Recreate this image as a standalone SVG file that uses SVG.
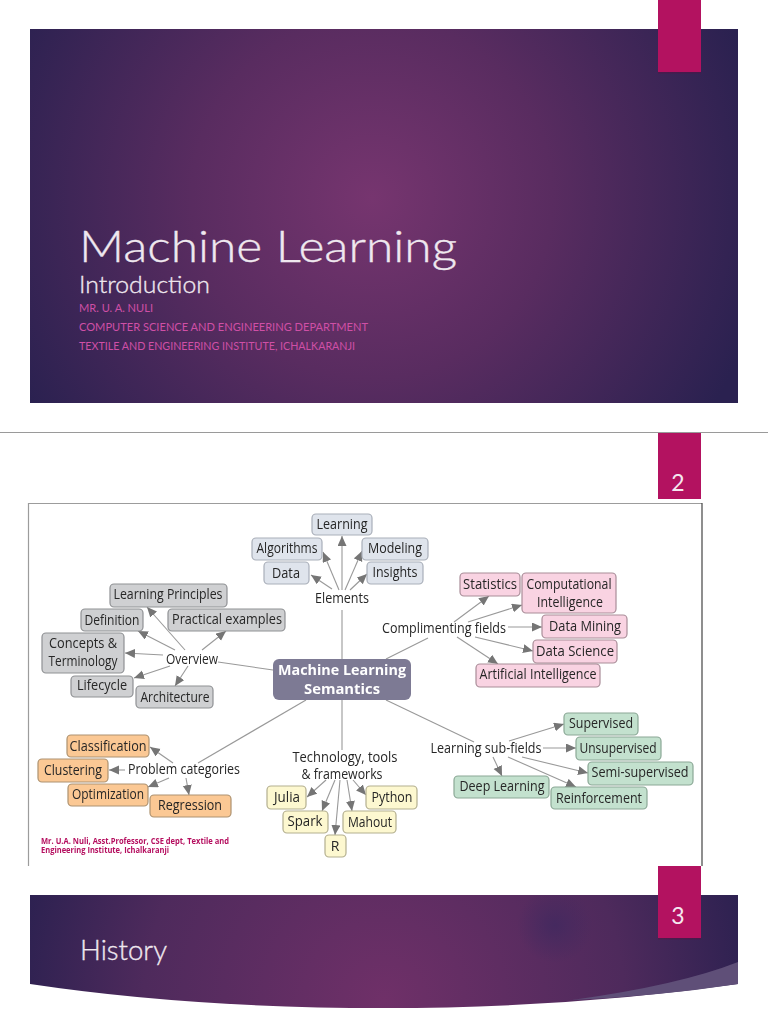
<svg xmlns="http://www.w3.org/2000/svg" width="768" height="1024" viewBox="0 0 768 1024">
<style>
.n{stroke-width:1.2}
.n rect{rx:4px;ry:4px}
.t{font-family:"Open Sans","Liberation Sans",sans-serif;font-size:14px;fill:#262626;text-anchor:middle}
.blue rect{fill:#dfe4ec;stroke:#a9afb9}
.gray rect{fill:#cfd0d2;stroke:#8f9194}
.pink rect{fill:#f9d3e2;stroke:#a98d98}
.green rect{fill:#c3e1ce;stroke:#8ba896}
.yellow rect{fill:#fdf8d0;stroke:#b3af8f}
.orange rect{fill:#fbc894;stroke:#ad9270}
.c line{stroke:#999;stroke-width:1.1}
.c line.a{marker-end:url(#ah)}
.title{font-family:"Lato","Open Sans",sans-serif;font-weight:300;fill:#efe8ef;stroke:#efe8ef;stroke-width:.35}
.sub{font-family:"Lato","Open Sans",sans-serif;font-size:11px;fill:#cf4fa6}
.tab{fill:#b31260}
.tabs{fill:#5a1040;opacity:.45}
.num{font-family:"Lato","Open Sans",sans-serif;font-weight:400;font-size:23px;fill:#f5e8f0;text-anchor:middle}
.soft{filter:url(#soft)}
</style>
<defs>
<radialGradient id="g1" gradientUnits="userSpaceOnUse" cx="372" cy="198" r="400">
<stop offset="0" stop-color="#76356f"/><stop offset=".45" stop-color="#592c60"/><stop offset="1" stop-color="#2a2150"/>
</radialGradient>
<radialGradient id="g3" gradientUnits="userSpaceOnUse" cx="384" cy="1000" r="400">
<stop offset="0" stop-color="#6f3068"/><stop offset=".6" stop-color="#4e2a5c"/><stop offset="1" stop-color="#251f4e"/>
</radialGradient>
<radialGradient id="spot"><stop offset="0" stop-color="#43295f" stop-opacity=".9"/><stop offset="1" stop-color="#43295f" stop-opacity="0"/></radialGradient>
<clipPath id="s3"><rect x="30" y="895" width="708" height="115"/></clipPath>
<marker id="ah" markerUnits="userSpaceOnUse" markerWidth="11" markerHeight="10" refX="10" refY="4.5" orient="auto">
<path d="M0 0L10 4.5L0 9Z" fill="#757575"/>
</marker>
<filter id="soft" x="-5%" y="-5%" width="110%" height="110%"><feGaussianBlur stdDeviation="0.4"/></filter>
</defs>
<rect width="768" height="1024" fill="#fff"/>

<g id="slide1">
<rect x="30" y="29" width="708" height="374" fill="url(#g1)"/>
<rect x="658" y="72" width="43" height="1.5" class="tabs"/>
<rect x="658" y="0" width="43" height="72" class="tab"/>
<text class="title" x="79" y="262" font-size="44" textLength="378" lengthAdjust="spacingAndGlyphs">Machine Learning</text>
<text class="title" x="79" y="293" font-size="24" textLength="131" lengthAdjust="spacingAndGlyphs">Introduction</text>
<text class="sub" x="79" y="312" textLength="74" lengthAdjust="spacingAndGlyphs">MR. U. A. NULI</text>
<text class="sub" x="79" y="331" textLength="289" lengthAdjust="spacingAndGlyphs">COMPUTER SCIENCE AND ENGINEERING DEPARTMENT</text>
<text class="sub" x="79" y="350" textLength="276" lengthAdjust="spacingAndGlyphs">TEXTILE AND ENGINEERING INSTITUTE, ICHALKARANJI</text>
</g>

<line x1="0" y1="432.5" x2="768" y2="432.5" stroke="#9a9a9a"/>

<g id="slide2">
<rect x="658" y="433" width="43" height="66" class="tab"/>
<text class="num" x="678" y="491">2</text>
<path d="M28.5 866V503.5H702" fill="none" stroke="#9c9c9c" stroke-width="1.2"/>
<path d="M702 503V866" fill="none" stroke="#444" stroke-width="1.2"/>
</g>

<g class="soft">
<g id="connectors" class="c">
<line x1="342" y1="659" x2="342" y2="610" stroke-width="1.5"/>
<line class="a" x1="342" y1="590" x2="342" y2="536"/>
<line class="a" x1="339" y1="590" x2="323" y2="552"/>
<line class="a" x1="332" y1="589" x2="311" y2="575"/>
<line class="a" x1="345" y1="590" x2="362" y2="551"/>
<line class="a" x1="350" y1="590" x2="367" y2="574"/>
<line x1="273" y1="670" x2="218" y2="662"/>
<line class="a" x1="185" y1="650" x2="147" y2="607"/>
<line class="a" x1="175" y1="650" x2="138" y2="631"/>
<line class="a" x1="202" y1="650" x2="226" y2="631"/>
<line class="a" x1="163" y1="655" x2="125" y2="653"/>
<line class="a" x1="170" y1="666" x2="134" y2="678"/>
<line class="a" x1="188" y1="666" x2="175" y2="686"/>
<line x1="386" y1="659" x2="428" y2="638"/>
<line class="a" x1="454" y1="622" x2="489" y2="596"/>
<line class="a" x1="468" y1="622" x2="522" y2="605"/>
<line class="a" x1="508" y1="627" x2="542" y2="627"/>
<line class="a" x1="475" y1="637" x2="533" y2="651"/>
<line class="a" x1="457" y1="637" x2="498" y2="664"/>
<line x1="386" y1="700" x2="474" y2="742"/>
<line class="a" x1="509" y1="741" x2="564" y2="724"/>
<line class="a" x1="543" y1="748" x2="576" y2="748"/>
<line class="a" x1="522" y1="757" x2="588" y2="773"/>
<line class="a" x1="508" y1="757" x2="576" y2="787"/>
<line class="a" x1="493" y1="757" x2="502" y2="776"/>
<line x1="306" y1="700" x2="198" y2="763"/>
<line class="a" x1="173" y1="763" x2="150" y2="747"/>
<line class="a" x1="125" y1="770" x2="109" y2="770"/>
<line class="a" x1="169" y1="778" x2="148" y2="787"/>
<line class="a" x1="186" y1="778" x2="189" y2="795"/>
<line x1="342" y1="700" x2="342" y2="750" stroke-width="1.5"/>
<line class="a" x1="326" y1="780" x2="307" y2="797"/>
<line class="a" x1="335" y1="780" x2="322" y2="811"/>
<line class="a" x1="340" y1="780" x2="335" y2="835"/>
<line class="a" x1="347" y1="780" x2="352" y2="811"/>
<line class="a" x1="353" y1="780" x2="366" y2="795"/>
</g>

<g id="n-center"><rect x="273" y="659" width="138" height="41" rx="6" fill="#7d7a94"/>
<text x="342" y="675" font-family="'Open Sans','Liberation Sans',sans-serif" font-size="14" font-weight="700" fill="#fff" text-anchor="middle" textLength="128" lengthAdjust="spacingAndGlyphs">Machine Learning</text>
<text x="342" y="694" font-family="'Open Sans','Liberation Sans',sans-serif" font-size="14" font-weight="700" fill="#fff" text-anchor="middle" textLength="76" lengthAdjust="spacingAndGlyphs">Semantics</text></g>

<g id="l-elements"><text class="t" x="342" y="603" textLength="54" lengthAdjust="spacingAndGlyphs">Elements</text></g>
<g id="n-learning" class="n blue"><rect x="312" y="514" width="60" height="21"/><text class="t" x="342" y="529" textLength="51" lengthAdjust="spacingAndGlyphs">Learning</text></g>
<g id="n-algorithms" class="n blue"><rect x="252" y="538" width="70" height="22"/><text class="t" x="287" y="553" textLength="61" lengthAdjust="spacingAndGlyphs">Algorithms</text></g>
<g id="n-data" class="n blue"><rect x="264" y="562" width="45" height="22"/><text class="t" x="286" y="578" textLength="28" lengthAdjust="spacingAndGlyphs">Data</text></g>
<g id="n-modeling" class="n blue"><rect x="362" y="538" width="66" height="22"/><text class="t" x="395" y="553" textLength="54" lengthAdjust="spacingAndGlyphs">Modeling</text></g>
<g id="n-insights" class="n blue"><rect x="367" y="562" width="56" height="22"/><text class="t" x="395" y="577" textLength="45" lengthAdjust="spacingAndGlyphs">Insights</text></g>

<g id="l-overview"><text class="t" x="192" y="664" textLength="52" lengthAdjust="spacingAndGlyphs">Overview</text></g>
<g id="n-principles" class="n gray"><rect x="110" y="584" width="117" height="23"/><text class="t" x="168" y="599" textLength="109" lengthAdjust="spacingAndGlyphs">Learning Principles</text></g>
<g id="n-definition" class="n gray"><rect x="81" y="609" width="62" height="22"/><text class="t" x="112" y="625" textLength="55" lengthAdjust="spacingAndGlyphs">Definition</text></g>
<g id="n-practical" class="n gray"><rect x="168" y="609" width="117" height="22"/><text class="t" x="227" y="624" textLength="110" lengthAdjust="spacingAndGlyphs">Practical examples</text></g>
<g id="n-concepts" class="n gray"><rect x="42" y="633" width="82" height="40"/><text class="t" x="83" y="648" textLength="68" lengthAdjust="spacingAndGlyphs">Concepts &amp;</text><text class="t" x="83" y="666" textLength="69" lengthAdjust="spacingAndGlyphs">Terminology</text></g>
<g id="n-lifecycle" class="n gray"><rect x="71" y="676" width="62" height="21"/><text class="t" x="102" y="690" textLength="50" lengthAdjust="spacingAndGlyphs">Lifecycle</text></g>
<g id="n-architecture" class="n gray"><rect x="136" y="686" width="77" height="22"/><text class="t" x="175" y="702" textLength="69" lengthAdjust="spacingAndGlyphs">Architecture</text></g>

<g id="l-complimenting"><text class="t" x="444" y="633" textLength="124" lengthAdjust="spacingAndGlyphs">Complimenting fields</text></g>
<g id="n-statistics" class="n pink"><rect x="460" y="573" width="60" height="23"/><text class="t" x="490" y="589" textLength="54" lengthAdjust="spacingAndGlyphs">Statistics</text></g>
<g id="n-computational" class="n pink"><rect x="522" y="573" width="94" height="40"/><text class="t" x="569" y="589" textLength="85" lengthAdjust="spacingAndGlyphs">Computational</text><text class="t" x="570" y="607" textLength="66" lengthAdjust="spacingAndGlyphs">Intelligence</text></g>
<g id="n-datamining" class="n pink"><rect x="542" y="615" width="85" height="23"/><text class="t" x="585" y="631" textLength="72" lengthAdjust="spacingAndGlyphs">Data Mining</text></g>
<g id="n-datascience" class="n pink"><rect x="533" y="640" width="84" height="23"/><text class="t" x="575" y="656" textLength="78" lengthAdjust="spacingAndGlyphs">Data Science</text></g>
<g id="n-ai" class="n pink"><rect x="476" y="664" width="124" height="23"/><text class="t" x="538" y="679" textLength="117" lengthAdjust="spacingAndGlyphs">Artificial Intelligence</text></g>

<g id="l-subfields"><text class="t" x="486" y="753" textLength="111" lengthAdjust="spacingAndGlyphs">Learning sub-fields</text></g>
<g id="n-supervised" class="n green"><rect x="564" y="713" width="74" height="22"/><text class="t" x="601" y="728" textLength="64" lengthAdjust="spacingAndGlyphs">Supervised</text></g>
<g id="n-unsupervised" class="n green"><rect x="576" y="737" width="85" height="23"/><text class="t" x="618" y="753" textLength="77" lengthAdjust="spacingAndGlyphs">Unsupervised</text></g>
<g id="n-semi" class="n green"><rect x="588" y="762" width="105" height="23"/><text class="t" x="640" y="777" textLength="97" lengthAdjust="spacingAndGlyphs">Semi-supervised</text></g>
<g id="n-reinforcement" class="n green"><rect x="551" y="787" width="96" height="22"/><text class="t" x="599" y="803" textLength="86" lengthAdjust="spacingAndGlyphs">Reinforcement</text></g>
<g id="n-deep" class="n green"><rect x="454" y="776" width="95" height="22"/><text class="t" x="502" y="791" textLength="85" lengthAdjust="spacingAndGlyphs">Deep Learning</text></g>

<g id="l-technology"><text class="t" x="345" y="762" textLength="105" lengthAdjust="spacingAndGlyphs">Technology, tools</text><text class="t" x="342" y="779" textLength="81" lengthAdjust="spacingAndGlyphs">&amp; frameworks</text></g>
<g id="n-julia" class="n yellow"><rect x="267" y="786" width="39" height="23"/><text class="t" x="287" y="802" textLength="26" lengthAdjust="spacingAndGlyphs">Julia</text></g>
<g id="n-spark" class="n yellow"><rect x="283" y="811" width="45" height="22"/><text class="t" x="305" y="826" textLength="35" lengthAdjust="spacingAndGlyphs">Spark</text></g>
<g id="n-r" class="n yellow"><rect x="325" y="835" width="21" height="22"/><text class="t" x="335" y="851">R</text></g>
<g id="n-mahout" class="n yellow"><rect x="343" y="811" width="53" height="22"/><text class="t" x="370" y="827" textLength="44" lengthAdjust="spacingAndGlyphs">Mahout</text></g>
<g id="n-python" class="n yellow"><rect x="366" y="786" width="51" height="23"/><text class="t" x="392" y="802" textLength="41" lengthAdjust="spacingAndGlyphs">Python</text></g>

<g id="l-problem"><text class="t" x="184" y="774" textLength="112" lengthAdjust="spacingAndGlyphs">Problem categories</text></g>
<g id="n-classification" class="n orange"><rect x="67" y="735" width="82" height="22"/><text class="t" x="108" y="751" textLength="77" lengthAdjust="spacingAndGlyphs">Classification</text></g>
<g id="n-clustering" class="n orange"><rect x="38" y="759" width="70" height="23"/><text class="t" x="73" y="775" textLength="58" lengthAdjust="spacingAndGlyphs">Clustering</text></g>
<g id="n-optimization" class="n orange"><rect x="68" y="784" width="80" height="22"/><text class="t" x="108" y="799" textLength="72" lengthAdjust="spacingAndGlyphs">Optimization</text></g>
<g id="n-regression" class="n orange"><rect x="150" y="795" width="81" height="22"/><text class="t" x="190" y="810" textLength="64" lengthAdjust="spacingAndGlyphs">Regression</text></g>

<text x="41" y="844" font-family="'Open Sans','Liberation Sans',sans-serif" font-size="8" font-weight="700" fill="#b5105f" textLength="188" lengthAdjust="spacingAndGlyphs">Mr. U.A. Nuli, Asst.Professor, CSE dept, Textile and</text>
<text x="41" y="853" font-family="'Open Sans','Liberation Sans',sans-serif" font-size="8" font-weight="700" fill="#b5105f" textLength="128" lengthAdjust="spacingAndGlyphs">Engineering Institute, Ichalkaranji</text>
</g>

<g id="slide3">
<path d="M30 895H738V984Q570 1008 384 1008Q190 1008 30 984Z" fill="url(#g3)"/>
<circle cx="555" cy="925" r="38" fill="url(#spot)" clip-path="url(#s3)"/>
<path d="M572 1000Q680 985 738 962V984Q660 996 572 1000Z" fill="#5f4f78"/>
<rect x="658" y="938" width="43" height="1.5" class="tabs"/>
<rect x="658" y="866" width="43" height="72" class="tab"/>
<text class="num" x="678" y="924">3</text>
<text class="title" x="80" y="960" font-size="28" textLength="87" lengthAdjust="spacingAndGlyphs">History</text>
</g>
</svg>
